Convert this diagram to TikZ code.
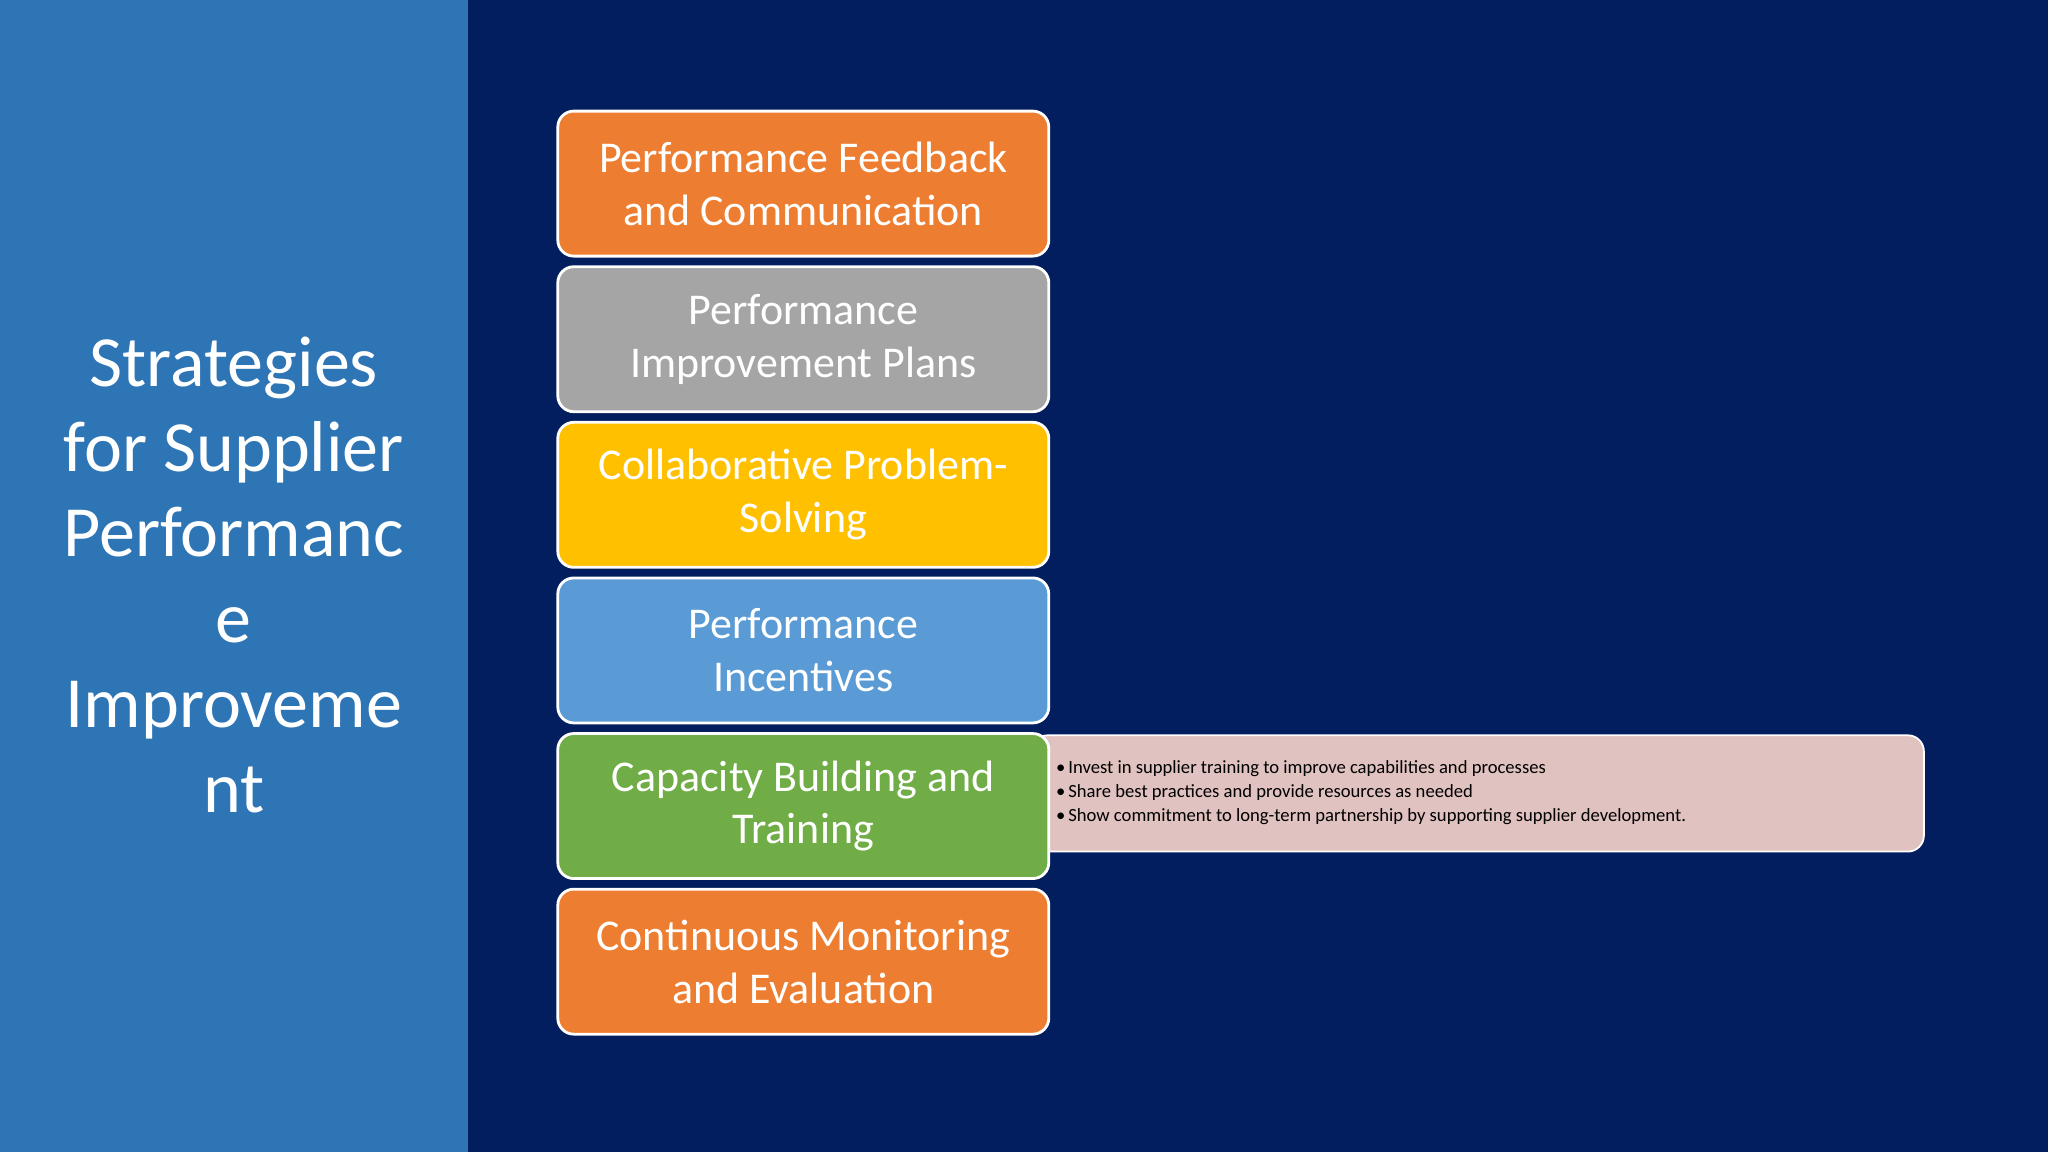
\documentclass[tikz,border=0pt]{standalone}
\usepackage{fontspec}
\setmainfont{Carlito}
\usepackage{tikz}
\usetikzlibrary{positioning}
\definecolor{Panel}{HTML}{2E75B6}
\definecolor{Back}{HTML}{021E5E}
\definecolor{StageOrange}{HTML}{ED7D31}
\definecolor{StageGray}{HTML}{A5A5A5}
\definecolor{StageYellow}{HTML}{FFC000}
\definecolor{StageBlue}{HTML}{5B9BD5}
\definecolor{StageGreen}{HTML}{70AD47}
\definecolor{Detail}{HTML}{E0C2C0}

\begin{document}
\begin{tikzpicture}[
    stage/.style={draw=white, line width=0.8pt, rounded corners=0.16cm, minimum width=4.91cm, minimum height=1.45cm, align=center, text=white, font={\fontsize{12.5}{15}\selectfont}, inner sep=1pt},
    detail/.style={rounded corners=0.16cm, fill=Detail, draw=white, line width=0.5pt},
    bullets/.style={align=left, anchor=west, font={\fontsize{5.3}{6.8}\selectfont}, inner sep=0pt}
  ]
  \useasboundingbox (0,0) rectangle (20.48,-11.52);
  \fill[Back] (0,0) rectangle (20.48,-11.52);
  \fill[Panel] (0,0) rectangle (4.676,-11.52);

  \node[text=white, align=center, font={\fontsize{20.5}{24.2}\selectfont}] (title) at (2.338,-5.75)
  {Strategies\\for Supplier\\Performanc\\e\\Improveme\\nt};

  % detail box sits behind the green stage
  \draw[detail] (10.318,-7.353) rectangle (19.239,-8.516);
  \coordinate (dtl) at (10.553,-7.93);

  \node[stage, fill=StageOrange, anchor=north] (feedback) at (8.033,-1.097) {Performance Feedback\\and Communication};
  \node[stage, fill=StageGray, below=0.078cm of feedback] (plans) {Performance\\Improvement Plans};
  \node[stage, fill=StageYellow, below=0.078cm of plans] (solving) {Collaborative Problem-\\Solving};
  \node[stage, fill=StageBlue, below=0.078cm of solving] (incentives) {Performance\\Incentives};
  \node[stage, fill=StageGreen, below=0.078cm of incentives] (training) {Capacity Building and\\Training};
  \node[stage, fill=StageOrange, below=0.078cm of training] (monitoring) {Continuous Monitoring\\and Evaluation};

  \node[bullets] (notes) at (dtl)
  {\textbullet\,Invest in supplier training to improve capabilities and processes\\
   \textbullet\,Share best practices and provide resources as needed\\
   \textbullet\,Show commitment to long-term partnership by supporting supplier development.};
\end{tikzpicture}
\end{document}
